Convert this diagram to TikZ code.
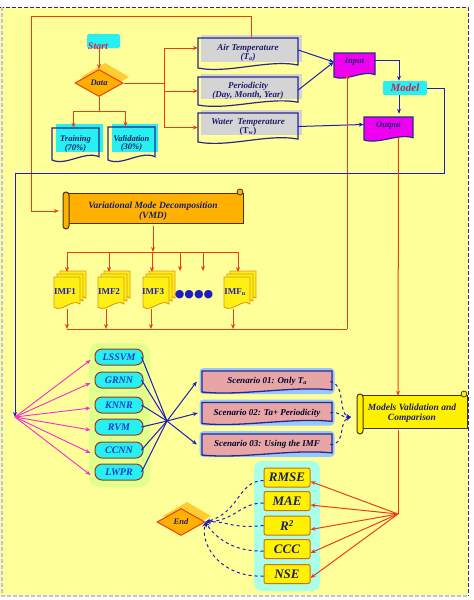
\documentclass[tikz,border=0pt]{standalone}
\usepackage{fontspec}
\setmainfont{Liberation Serif}
\newfontfamily\dejavu{DejaVu Sans}
\usetikzlibrary{arrows.meta,shapes.geometric,calc}
\definecolor{bgy}{RGB}{255,255,153}
\definecolor{navyl}{RGB}{40,40,140}
\definecolor{lav}{RGB}{190,190,240}
\definecolor{redl}{RGB}{232,62,28}
\definecolor{bluel}{RGB}{30,30,190}
\definecolor{magl}{RGB}{250,40,210}
\definecolor{cyanf}{RGB}{40,240,240}
\definecolor{orangef}{RGB}{255,176,0}
\definecolor{orangesh}{RGB}{255,205,50}
\definecolor{grayf}{RGB}{212,212,212}
\definecolor{magf}{RGB}{240,0,240}
\definecolor{pinkf}{RGB}{232,165,165}
\definecolor{crim}{RGB}{210,30,80}
\definecolor{txtn}{RGB}{30,30,110}
\definecolor{pilltxt}{RGB}{30,60,200}
\definecolor{imfy}{RGB}{255,240,20}
\definecolor{imfb}{RGB}{225,150,20}
\definecolor{scrollb}{RGB}{70,50,30}
\definecolor{pillb}{RGB}{150,60,30}
\definecolor{glowc}{RGB}{170,255,230}
\definecolor{glowy}{RGB}{225,255,140}
\definecolor{glowb}{RGB}{150,200,255}
\definecolor{metb}{RGB}{210,110,30}
\newcommand\docpath[5]{% cx cy w h style
  \path[#5] ({#1-#3/2},{#2-#4/2}) -- ({#1+#3/2},{#2-#4/2}) -- ({#1+#3/2},{#2+#4/2-0.1*#4})
    .. controls ({#1+#3/5},{#2+#4/2-0.3*#4}) and ({#1-#3/5},{#2+#4/2+0.2*#4}) .. ({#1-#3/2},{#2+#4/2}) -- cycle;}
\newcommand\mydoc[8]{% name cx cy w h pathstyle nodestyle text
  \docpath{#2}{#3}{#4}{#5}{#6}
  \node[#7, minimum width=#4pt, minimum height=#5pt, inner sep=0pt, align=center] (#1) at (#2,#3) {#8};}
\newcommand\myscroll[5]{% x1 y1 x2 y2 fill
  \path[draw=scrollb, line width=1pt, fill=#5] ({#1+3},{#2+2}) rectangle (#3,{#4-6});
  \path[draw=scrollb, line width=1pt, fill=#5, rounded corners=3pt] (#1,{#2+1}) rectangle ({#1+6},#4);
  \path[draw=scrollb, line width=0.8pt, fill=#5] ({#3-3},{#2+1}) circle (3pt);}
\begin{document}
\begin{tikzpicture}[x=1pt,y=-1pt,
  arr/.style={-{Stealth[length=5pt,width=4pt]}},
  rl/.style={redl, line width=1pt},
  bl/.style={bluel, line width=1pt},
  ml/.style={magl, line width=0.9pt},
  bi/.style={font=\bfseries\itshape\fontsize{#1}{#1}\selectfont},
  bi/.default=9,
  graydoc/.style={draw=navyl, line width=1.2pt},
  cyandoc/.style={draw=navyl, line width=1.2pt},
  magdoc/.style={draw=navyl, line width=1.2pt, fill=magf},
  imfs/.style={draw=imfb, line width=0.9pt, fill=imfy},
  imft/.style={font=\bfseries\fontsize{9}{9}\selectfont, text=bluel},
  pinkdoc/.style={draw=navyl, line width=1.3pt, fill=pinkf},
  pill/.style={rectangle, rounded corners=7pt, draw=pillb, line width=1pt, fill=cyanf,
     minimum width=48pt, minimum height=16pt, inner sep=0pt, bi=10, text=pilltxt},
  metric/.style={rectangle, rounded corners=2pt, draw=metb, line width=1pt, fill=yellow,
     minimum width=46pt, minimum height=19pt, inner sep=0pt, bi=13, text=txtn},
  dia/.style={diamond, aspect=1.8, draw=redl, line width=1pt, fill=orangef,
     minimum width=48pt, minimum height=27pt, inner sep=0pt, bi=8.5, text=txtn}]
\useasboundingbox (0,0) rectangle (474,600);
\fill[white] (0,0) rectangle (474,600);
\fill[bgy] (0,7) rectangle (468,596);
\draw[navyl, line width=1pt, dash pattern=on 4pt off 2pt] (0,7) -- (468,7) -- (468,596);
\draw[lav, line width=1.6pt, dash pattern=on 4pt off 2pt] (2,7) -- (2,596) -- (468,596);

% ---- Start / Data ----
\node[rectangle, rounded corners=1.5pt, fill=cyanf, minimum width=33pt, minimum height=14pt] (start) at (103.5,41) {};
\node[bi=10, text=crim, inner sep=0pt] (starttxt) at (98,46) {Start};
\fill[orangesh] (81,77) -- (105,63) -- (129,77) -- (105,91) -- cycle;
\node[dia] (data) at (99,83) {Data};
\draw[rl,arr] (start.south -| data.north) -- (data.north);

% ---- Training / Validation ----
\fill[cyanf] (56,124) rectangle (103,152);
\fill[cyanf] (112,124) rectangle (158,152);
\mydoc{train}{75.5}{144}{47}{32}{cyandoc}{bi=8.5, text=txtn}{Training\\(70\%)}
\mydoc{valid}{131.5}{143.5}{47}{33}{cyandoc}{bi=8.5, text=txtn}{Validation\\(30\%)}
\coordinate (split1) at (99,111);
\draw[rl] (data.south) -- (split1);
\draw[rl,arr] (split1) -| ([xshift=-2pt]train.north);
\draw[rl,arr] (split1) -| ([xshift=-6pt]valid.north);

% ---- Inputs ----
\fill[grayf] (201,35) rectangle (302,62);
\fill[grayf] (201,74) rectangle (302,99);
\fill[grayf] (201,110) rectangle (302,135);
\mydoc{airT}{248}{53}{100}{30}{graydoc}{bi=9, text=txtn}{Air Temperature\\(T\textsubscript{a})}
\mydoc{period}{248}{91}{100}{28}{graydoc}{bi=9, text=txtn}{Periodicity\\(Day, Month, Year)}
\mydoc{waterT}{248}{127.5}{100}{29}{graydoc}{bi=9, text=txtn}{Water\ \ Temperature\\{\upshape (T\textsubscript{w})}}
\coordinate (d1) at (164,83);
\draw[rl] (data.east) -- (d1);
\draw[rl,arr] (d1) |- ([yshift=5pt]airT.west);
\draw[rl,arr] (d1) |- (period.west);
\draw[rl,arr] (d1) |- (waterT.west);

% ---- Input / Model / Output ----
\mydoc{input}{354.5}{65}{41}{24}{magdoc}{bi=8.5, text=txtn, yshift=3pt}{Input}
\node[rectangle, rounded corners=2pt, fill=cyanf, minimum width=44pt, minimum height=14pt, inner sep=0pt, bi=11, text=crim] (model) at (405,88) {Model};
\mydoc{output}{388.5}{128.5}{49}{23}{magdoc}{bi=8.5, text=txtn, yshift=3pt}{Output}
\draw[bl,arr] ([yshift=3pt]airT.east) -- (input.west);
\draw[bl,arr] ([yshift=1pt]period.east) -- (input.west);
\draw[bl,arr] ([yshift=1pt]waterT.east) -- ([yshift=1pt]output.west);
\draw[bl,arr] ([yshift=2pt]input.east) -| ([xshift=-6pt]model.north);
\draw[bl,arr] ([xshift=-6pt]model.south) -- ([xshift=-6pt]model.south |- output.north);

% ---- VMD ----
\myscroll{63}{191}{243}{229}{orangef}
\node[bi=9.5, text=txtn, align=center, minimum width=180pt, minimum height=30pt, inner sep=0pt] (vmd) at (153,211) {Variational Mode Decomposition\\(VMD)};
\draw[rl,arr] ([xshift=3pt]airT.north) |- (31,16) |- ([xshift=-4pt]vmd.west);

% ---- IMFs ----
\docpath{73}{286}{26}{30}{imfs}\docpath{70}{289}{26}{30}{imfs}
\docpath{67}{292}{26}{30}{imfs}
\node[imft, minimum width=26pt, minimum height=30pt, inner sep=0pt] (imf1) at (65,292) {IMF1};
\docpath{117}{286}{26}{30}{imfs}\docpath{114}{289}{26}{30}{imfs}
\docpath{111}{292}{26}{30}{imfs}
\node[imft, minimum width=26pt, minimum height=30pt, inner sep=0pt] (imf2) at (109,292) {IMF2};
\docpath{162}{286}{26}{30}{imfs}\docpath{159}{289}{26}{30}{imfs}
\docpath{156}{292}{26}{30}{imfs}
\node[imft, minimum width=26pt, minimum height=30pt, inner sep=0pt] (imf3) at (153,292) {IMF3};
\node[text=bluel, font=\dejavu\fontsize{11}{11}\selectfont, inner sep=0pt] (dots) at (194,295) {●●●●};
\docpath{243}{286}{26}{30}{imfs}\docpath{240}{289}{26}{30}{imfs}
\docpath{237}{292}{26}{30}{imfs}
\node[imft, minimum width=26pt, minimum height=30pt, inner sep=0pt] (imfn) at (235,292) {IMF\textsubscript{n}};

\coordinate (bus1w) at (67,252);
\coordinate (bus1e) at (238,252);
\coordinate (bus1a) at (180,252);
\coordinate (bus1b) at (203,252);
\draw[rl,arr] (vmd.south) -- (vmd.south |- bus1w);
\draw[rl] (bus1w) -- (bus1e);
\draw[rl,arr] (bus1w) -- (67,272);
\draw[rl,arr] (109,252) -- (109,272);
\draw[rl,arr] (152,252) -- (152,272);
\draw[rl,arr] (bus1a) -- (180,271);
\draw[rl,arr] (bus1b) -- (203,271);
\draw[rl,arr] (bus1e) -- (238,272);

\coordinate (bus2w) at (67,329);
\coordinate (bus2e) at (347,329);
\draw[rl,arr] (67,309) -- (bus2w);
\draw[rl,arr] (106,309) -- (106,329);
\draw[rl,arr] (151,309) -- (151,329);
\draw[rl,arr] (233,309) -- (233,329);
\draw[rl] (bus2w) -- (bus2e);
\draw[rl,arr] (bus2e) -- (bus2e |- input.south);

% ---- Model feedback line ----
\coordinate (fan) at (15,417);
\draw[bl,arr] (model.east) -| (444,173) -| (fan);

% ---- Models list ----
\fill[glowy, rounded corners=10pt] (89,343) rectangle (150,487);
\node[pill] (lssvm) at (119,357) {LSSVM};
\node[pill] (grnn) at (119,380) {GRNN};
\node[pill] (knnr) at (119,405) {KNNR};
\node[pill] (rvm) at (119,427) {RVM};
\node[pill] (ccnn) at (119,450) {CCNN};
\node[pill] (lwpr) at (119,472) {LWPR};
\foreach \m in {lssvm,grnn,knnr,rvm,ccnn,lwpr}
  \draw[ml,arr] (fan) -- ([xshift=-4pt,yshift=-3pt]\m.west);
\coordinate (hubb) at (167,421);
\foreach \m in {lssvm,grnn,knnr,rvm,ccnn,lwpr}
  \draw[bl] ([xshift=-2pt]\m.east) -- (hubb);

% ---- Scenarios ----
\foreach \yy in {381.5,413,444.5}
  \draw[glowb, line width=5pt, rounded corners=2pt] (202,{\yy-11}) rectangle (332,{\yy+10});
\mydoc{s1}{267}{381.5}{130}{21}{pinkdoc}{bi=9, text=black!85!blue}{Scenario 01: Only T\textsubscript{a}}
\mydoc{s2}{267}{413}{130}{21}{pinkdoc}{bi=9, text=black!85!blue}{Scenario 02: Ta+ Periodicity}
\mydoc{s3}{267}{444.5}{130}{21}{pinkdoc}{bi=9, text=black!85!blue}{Scenario 03: Using the IMF}
\draw[bl,arr] (hubb) -- ([xshift=-5pt]s1.west);
\draw[bl,arr] (hubb) -- ([xshift=-4pt]s2.west);
\draw[bl,arr] (hubb) -- ([xshift=-5pt]s3.west);

% ---- Models validation ----
\myscroll{357}{393}{467}{434}{yellow}
\node[bi=9.5, text=txtn, align=center, minimum width=110pt, minimum height=34pt, inner sep=0pt] (mv) at (412,413) {Models Validation and\\Comparison};
\coordinate (mvin) at (351,417);
\draw[bl,dashed,arr] ([xshift=-2pt]s1.east) .. controls (346,384) and (338,414) .. (mvin);
\draw[bl,dashed,arr] ([xshift=-2pt]s2.east) .. controls (338,410) and (342,418) .. (mvin);
\draw[bl,dashed,arr] ([xshift=-2pt]s3.east) .. controls (346,445) and (338,422) .. (mvin);
\draw[rl,arr] ([xshift=10pt]output.south) -- ([xshift=-14pt]mv.north);

% ---- Metrics ----
\fill[glowc, rounded corners=8pt] (254,461) rectangle (320,591);
\node[metric] (rmse) at (287,477.5) {RMSE};
\node[metric] (mae) at (287,501) {MAE};
\node[metric] (r2) at (287,525.5) {R\textsuperscript{2}};
\node[metric] (ccc) at (287,549) {CCC};
\node[metric] (nse) at (287,574) {NSE};
\coordinate (hub2) at (398,514);
\draw[rl] ([xshift=-14pt]mv.south) -- (hub2);
\foreach \m in {rmse,mae,r2,ccc,nse}
  \draw[rl,arr] (hub2) -- ([yshift=-4pt]\m.east);

% ---- End ----
\fill[orangesh] (163,516) -- (187,502) -- (211,516) -- (187,530) -- cycle;
\node[dia] (end) at (181,522) {End};
\draw[bl,dashed,arr] ([yshift=-3pt]rmse.west) .. controls (238,481) and (240,512) .. (end.east);
\draw[bl,dashed,arr] ([yshift=-2pt]mae.west) .. controls (240,503) and (236,520) .. (end.east);
\draw[bl,dashed,arr] (r2.west) .. controls (232,529) and (228,521) .. (end.east);
\draw[bl,dashed,arr] ([yshift=-2pt]ccc.west) .. controls (232,552) and (214,536) .. (end.east);
\draw[bl,dashed,arr] ([yshift=-2pt]nse.west) .. controls (224,578) and (200,548) .. (end.east);
\end{tikzpicture}
\end{document}
